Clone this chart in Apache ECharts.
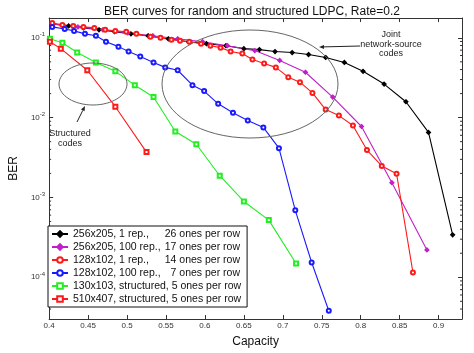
<!DOCTYPE html>
<html>
<head>
  <meta charset="UTF-8">
  <title>BER curves</title>
  <style>
    html, body { margin: 0; padding: 0; background: #fff; }
    #chart { width: 474px; height: 353px; }
  </style>
  <script src="https://cdn.jsdelivr.net/npm/echarts@6/dist/echarts.min.js"></script>
</head>
<body>
  <div id="chart"></div>
  <script>
    // capacity (x) and BER (y)
    var blackX = [0.404, 0.425, 0.444, 0.464, 0.484, 0.505, 0.527, 0.553, 0.579, 0.602, 0.627, 0.650, 0.670, 0.690, 0.712, 0.733, 0.755, 0.779, 0.803, 0.830, 0.858, 0.887, 0.918];
    var blackY = [0.149, 0.141, 0.133, 0.126, 0.119, 0.112, 0.106, 0.0972, 0.0893, 0.0843, 0.0796, 0.0731, 0.0711, 0.0672, 0.0653, 0.0617, 0.0566, 0.0491, 0.038, 0.0263, 0.0158, 0.00653, 0.00034];

    var magX = [0.405, 0.437, 0.469, 0.501, 0.533, 0.565, 0.597, 0.629, 0.664, 0.696, 0.729, 0.764, 0.801, 0.840, 0.885];
    var magY = [0.149, 0.137, 0.126, 0.115, 0.106, 0.0972, 0.0893, 0.0796, 0.0691, 0.052, 0.037, 0.0181, 0.00774, 0.00153, 0.00022];

    var red1X = [0.404, 0.417, 0.431, 0.444, 0.458, 0.472, 0.485, 0.499, 0.512, 0.530, 0.543, 0.557, 0.568, 0.580, 0.595, 0.607, 0.620, 0.633, 0.648, 0.661, 0.676, 0.691, 0.707, 0.722, 0.738, 0.755, 0.772, 0.790, 0.808, 0.827, 0.846, 0.867];
    var red1Y = [0.153, 0.145, 0.141, 0.137, 0.133, 0.126, 0.122, 0.119, 0.112, 0.103, 0.1, 0.0945, 0.0918, 0.0893, 0.0843, 0.0796, 0.0753, 0.0672, 0.0634, 0.0535, 0.0477, 0.0426, 0.0321, 0.0278, 0.0204, 0.0126, 0.0106, 0.00796, 0.00392, 0.00248, 0.00198, 0.000115];

    var blueX = [0.404, 0.420, 0.432, 0.446, 0.460, 0.473, 0.489, 0.502, 0.517, 0.534, 0.549, 0.565, 0.584, 0.599, 0.617, 0.636, 0.655, 0.675, 0.695, 0.716, 0.737, 0.759];
    var blueY = [0.137, 0.129, 0.122, 0.112, 0.106, 0.0893, 0.0775, 0.0672, 0.0582, 0.0491, 0.0426, 0.0392, 0.0255, 0.0215, 0.0149, 0.0115, 0.0092, 0.00753, 0.00414, 0.00069, 0.000153, 0.000038];

    var greenX = [0.401, 0.417, 0.436, 0.460, 0.485, 0.510, 0.534, 0.562, 0.589, 0.619, 0.650, 0.682, 0.717];
    var greenY = [0.0972, 0.0868, 0.0653, 0.0491, 0.038, 0.0255, 0.0181, 0.00671, 0.00464, 0.00187, 0.00089, 0.00052, 0.000149];

    var red2X = [0.401, 0.415, 0.449, 0.485, 0.525];
    var red2Y = [0.0893, 0.0731, 0.0392, 0.0137, 0.0037];

    var seriesNames = ['256x205, 1 rep.', '256x205, 100 rep.', '128x102, 1 rep.', '128x102, 100 rep.', '130x103, structured', '510x407, structured'];
    var legendLeft = ['256x205, 1 rep.,', '256x205, 100 rep.,', '128x102, 1 rep.,', '128x102, 100 rep.,', '130x103, structured, 5 ones per row', '510x407, structured, 5 ones per row'];
    var legendRight = ['26 ones per row', '17 ones per row', '14 ones per row', '7 ones per row', '', ''];

    var xMin = 0.4, xMax = 0.93, yMin = 3e-5, yMax = 0.177;
    var yMinorTicks = [4e-5, 5e-5, 6e-5, 7e-5, 8e-5, 9e-5,
      2e-4, 3e-4, 4e-4, 5e-4, 6e-4, 7e-4, 8e-4, 9e-4,
      2e-3, 3e-3, 4e-3, 5e-3, 6e-3, 7e-3, 8e-3, 9e-3,
      2e-2, 3e-2, 4e-2, 5e-2, 6e-2, 7e-2, 8e-2, 9e-2];

    function zip(xs, ys) {
      return xs.map(function (x, i) { return [x, ys[i]]; });
    }

    function lineSeries(name, xs, ys, color, symbol) {
      return {
        name: name,
        type: 'line',
        data: zip(xs, ys),
        symbol: symbol,
        symbolSize: 4,
        showAllSymbol: true,
        lineStyle: { color: color, width: 1.1 },
        itemStyle: { color: color, borderColor: color, borderWidth: 1.2 },
        emphasis: { disabled: true }
      };
    }

    function powLabel(v) {
      var e = Math.round(Math.log10(v));
      if (Math.abs(Math.log10(v) - e) > 1e-6) return '';
      return '10{s|' + e + '}';
    }

    function arrow(x1, y1, x2, y2) {
      var a = Math.atan2(y2 - y1, x2 - x1), L = 5, W = 2;
      var bx = x2 - L * Math.cos(a), by = y2 - L * Math.sin(a);
      var px = -Math.sin(a) * W, py = Math.cos(a) * W;
      return [
        { type: 'line', shape: { x1: x1, y1: y1, x2: bx, y2: by }, style: { stroke: '#222', lineWidth: 1 }, silent: true },
        { type: 'polygon', shape: { points: [[x2, y2], [bx + px, by + py], [bx - px, by - py]] }, style: { fill: '#222' }, silent: true }
      ];
    }

    var font = '"Liberation Sans", Arial, Helvetica, sans-serif';
    var chart = echarts.init(document.getElementById('chart'));

    var axisLineStyle = { lineStyle: { color: '#333', width: 1 } };
    var option = {
      animation: false,
      backgroundColor: '#fff',
      textStyle: { fontFamily: font },
      title: {
        text: 'BER curves for random and structured LDPC, Rate=0.2',
        left: 247,
        top: 1,
        textAlign: 'center',
        textStyle: { fontSize: 12, fontWeight: 'normal', color: '#111', fontFamily: font }
      },
      grid: { left: 32, right: 12, top: 18, bottom: 30 },
      legend: {
        orient: 'vertical',
        left: 48,
        top: 226,
        data: seriesNames,
        backgroundColor: '#fff',
        borderColor: '#111',
        borderWidth: 1,
        borderRadius: 0,
        padding: [2, 6, 2, 3],
        itemGap: 1,
        itemWidth: 16,
        itemHeight: 7,
        textStyle: {
          fontSize: 10.5,
          color: '#111',
          lineHeight: 12,
          rich: {
            a: { width: 88, fontSize: 10.5, color: '#111' },
            b: { width: 79, align: 'right', fontSize: 10.5, color: '#111' }
          }
        },
        formatter: function (name) {
          var i = seriesNames.indexOf(name);
          if (!legendRight[i]) return legendLeft[i];
          return '{a|' + legendLeft[i] + '}{b|' + legendRight[i] + '}';
        }
      },
      xAxis: [{
        type: 'value',
        min: xMin, max: xMax, interval: 0.05,
        name: 'Capacity', nameLocation: 'middle', nameGap: 17,
        nameTextStyle: { fontSize: 12, color: '#111' },
        axisLine: axisLineStyle,
        axisTick: { inside: true, length: 4, lineStyle: { color: '#333' } },
        axisLabel: { fontSize: 8, color: '#333', margin: 3, showMaxLabel: false },
        splitLine: { show: false }
      }, {
        type: 'value', position: 'top',
        min: xMin, max: xMax, interval: 0.05,
        axisLine: axisLineStyle,
        axisTick: { inside: true, length: 4, lineStyle: { color: '#333' } },
        axisLabel: { show: false },
        splitLine: { show: false }
      }],
      yAxis: [{
        type: 'log', logBase: 10,
        min: yMin, max: yMax,
        name: 'BER', nameLocation: 'middle', nameGap: 20, nameRotate: 90,
        nameTextStyle: { fontSize: 12, color: '#111' },
        axisLine: axisLineStyle,
        axisTick: { inside: true, length: 4, lineStyle: { color: '#333' } },
        axisLabel: {
          fontSize: 8, color: '#333', margin: 4,
          formatter: powLabel,
          rich: { s: { fontSize: 6, color: '#333', padding: [0, 0, 6, 0] } }
        },
        splitLine: { show: false }
      }, {
        type: 'log', logBase: 10, position: 'right',
        min: yMin, max: yMax,
        axisLine: axisLineStyle,
        axisTick: { inside: true, length: 4, lineStyle: { color: '#333' } },
        axisLabel: { show: false },
        splitLine: { show: false }
      }],
      series: [
        lineSeries(seriesNames[0], blackX, blackY, '#000000', 'diamond'),
        lineSeries(seriesNames[1], magX, magY, '#c020c8', 'diamond'),
        lineSeries(seriesNames[2], red1X, red1Y, '#ff1a1a', 'emptyCircle'),
        lineSeries(seriesNames[3], blueX, blueY, '#1a1aff', 'emptyCircle'),
        lineSeries(seriesNames[4], greenX, greenY, '#22ee22', 'emptyRect'),
        lineSeries(seriesNames[5], red2X, red2Y, '#ff1a1a', 'emptyRect'),
        {
          name: 'minorTicks',
          type: 'custom',
          silent: true,
          clip: false,
          data: yMinorTicks.map(function (v) { return [xMin, v]; }),
          renderItem: function (params, api) {
            var v = api.value(1);
            var l = api.coord([xMin, v]);
            var r = api.coord([xMax, v]);
            return {
              type: 'group',
              children: [
                { type: 'line', shape: { x1: l[0], y1: l[1], x2: l[0] + 2, y2: l[1] }, style: { stroke: '#333', lineWidth: 1 } },
                { type: 'line', shape: { x1: r[0] - 2, y1: r[1], x2: r[0], y2: r[1] }, style: { stroke: '#333', lineWidth: 1 } }
              ]
            };
          }
        }
      ],
      graphic: [
        { type: 'ellipse', shape: { cx: 93, cy: 84, rx: 34, ry: 21 }, style: { fill: 'none', stroke: '#666', lineWidth: 1 }, silent: true, z: 10 },
        { type: 'ellipse', shape: { cx: 250, cy: 84, rx: 88, ry: 54 }, style: { fill: 'none', stroke: '#666', lineWidth: 1 }, silent: true, z: 10 },
        { type: 'text', x: 70, y: 129, style: { text: 'Structured\ncodes', align: 'center', verticalAlign: 'top', fontSize: 9, lineHeight: 10, fill: '#222', fontFamily: font }, silent: true, z: 10 },
        { type: 'text', x: 391, y: 30, style: { text: 'Joint\nnetwork-source\ncodes', align: 'center', verticalAlign: 'top', fontSize: 9, lineHeight: 9.5, fill: '#222', fontFamily: font }, silent: true, z: 10 },
        { type: 'group', children: arrow(77, 122, 85, 106), z: 10 },
        { type: 'group', children: arrow(360, 46, 319, 47), z: 10 }
      ]
    };
    chart.setOption(option);
  </script>
</body>
</html>
